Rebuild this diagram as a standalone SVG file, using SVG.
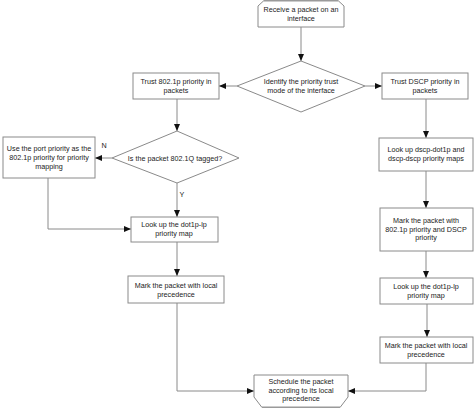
<svg xmlns="http://www.w3.org/2000/svg" width="474" height="408" viewBox="0 0 474 408">
<defs>
<marker id="ah" markerWidth="7" markerHeight="6" refX="7" refY="3" orient="auto" markerUnits="userSpaceOnUse">
<path d="M0,0 L7,3 L0,6 Z" fill="#111"/>
</marker>
<style>
.n{fill:#fff;stroke:#8a8a8a;stroke-width:1}
.t{font-family:"Liberation Sans",Arial,sans-serif;font-size:7.2px;fill:#222;text-anchor:middle}
.c{fill:none;stroke:#8a8a8a;stroke-width:1;marker-end:url(#ah)}
</style>
</defs>
<rect width="474" height="408" fill="#fff"/>
<g id="connectors">
<path class="c" d="M301,27 V61"/>
<path class="c" d="M237,86 H219"/>
<path class="c" d="M365,86 H382"/>
<path class="c" d="M177,99 V131"/>
<path class="c" d="M112,158 H95"/>
<path class="c" d="M177,183 V217"/>
<path class="c" d="M48,178 V229 H131"/>
<path class="c" d="M177,242 V276"/>
<path class="c" d="M177,303 V391 H254"/>
<path class="c" d="M426,99 V138"/>
<path class="c" d="M426,171 V208"/>
<path class="c" d="M426,251 V278"/>
<path class="c" d="M427,304 V337"/>
<path class="c" d="M426,363 V391 H348"/>
<text class="t" x="104" y="148">N</text>
<text class="t" x="182" y="197">Y</text>
</g>
<g id="start">
<path class="n" d="M258,27 L258,6 L264,0.5 L338,0.5 L344,6 L344,27 Z"/>
<line x1="264" y1="0.8" x2="338" y2="0.8" stroke="#9a9a9a" stroke-width="1.6"/>
<text class="t" x="301" y="12">Receive a packet on an</text>
<text class="t" x="301" y="21">interface</text>
</g>
<g id="identify">
<polygon class="n" points="301,61 365,86 301,112 237,86"/>
<text class="t" x="301" y="83.5">Identify the priority trust</text>
<text class="t" x="301" y="92.5">mode of the interface</text>
</g>
<g id="trust8021p">
<rect class="n" x="133" y="73" width="86" height="26"/>
<text class="t" x="176" y="83.5">Trust 802.1p priority in</text>
<text class="t" x="176" y="92.5">packets</text>
</g>
<g id="trustdscp">
<rect class="n" x="382" y="73" width="86" height="26"/>
<text class="t" x="425" y="83.5">Trust DSCP priority in</text>
<text class="t" x="425" y="92.5">packets</text>
</g>
<g id="tagged">
<polygon class="n" points="177,131 239,158 177,183 112,158"/>
<text class="t" x="175" y="160.5">Is the packet 802.1Q tagged?</text>
</g>
<g id="useport">
<rect class="n" x="3" y="137" width="92" height="41"/>
<text class="t" x="49" y="151">Use the port priority as the</text>
<text class="t" x="49" y="160">802.1p priority for priority</text>
<text class="t" x="49" y="168.5">mapping</text>
</g>
<g id="lookupL">
<rect class="n" x="131" y="217" width="87" height="25"/>
<text class="t" x="174" y="227">Look up the dot1p-lp</text>
<text class="t" x="174" y="236">priority map</text>
</g>
<g id="markL">
<rect class="n" x="128" y="276" width="96" height="27"/>
<text class="t" x="176" y="287.5">Mark the packet with local</text>
<text class="t" x="176" y="296.5">precedence</text>
</g>
<g id="lookupdscp">
<rect class="n" x="379" y="138" width="94" height="33"/>
<text class="t" x="426" y="152">Look up dscp-dot1p and</text>
<text class="t" x="426" y="161">dscp-dscp priority maps</text>
</g>
<g id="markdscp">
<rect class="n" x="380" y="208" width="93" height="43"/>
<text class="t" x="426" y="222.5">Mark the packet with</text>
<text class="t" x="426" y="231.5">802.1p priority and DSCP</text>
<text class="t" x="426" y="240.3">priority</text>
</g>
<g id="lookupR">
<rect class="n" x="380" y="278" width="93" height="26"/>
<text class="t" x="426" y="289">Look up the dot1p-lp</text>
<text class="t" x="426" y="298">priority map</text>
</g>
<g id="markR">
<rect class="n" x="380" y="337" width="93" height="26"/>
<text class="t" x="426" y="347.5">Mark the packet with local</text>
<text class="t" x="426" y="356.5">precedence</text>
</g>
<g id="schedule">
<path class="n" d="M254,375 L348,375 L348,397 L340,407.5 L262,407.5 L254,397 Z"/>
<line x1="262" y1="407.2" x2="340" y2="407.2" stroke="#9a9a9a" stroke-width="1.6"/>
<text class="t" x="301" y="384">Schedule the packet</text>
<text class="t" x="301" y="392.5">according to its local</text>
<text class="t" x="301" y="401">precedence</text>
</g>
</svg>
